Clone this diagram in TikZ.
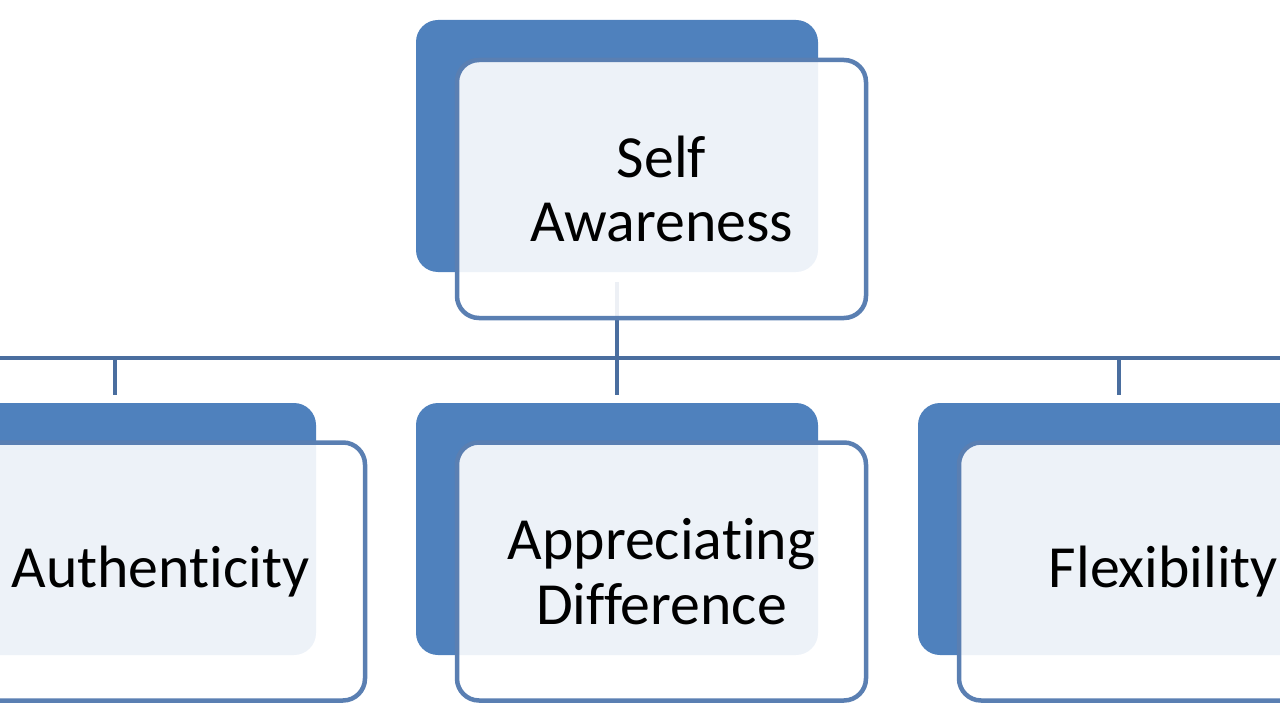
\documentclass[tikz,border=0pt]{standalone}
\usepackage{fontspec}
\setmainfont{Carlito}[Ligatures=NoCommon]
\usetikzlibrary{backgrounds}
\definecolor{accent}{HTML}{4F81BD}
\definecolor{outline}{HTML}{5A7FB2}
\definecolor{connc}{HTML}{4A6E9F}
\tikzset{
  backbox/.style={rectangle, rounded corners=22bp, fill=accent, draw=none,
    minimum width=402bp, minimum height=252bp, inner sep=0pt, outer sep=0pt},
  frontbox/.style={rectangle, rounded corners=22bp, fill=white, fill opacity=0.9,
    text opacity=1, draw=outline, line width=4.5bp,
    minimum width=409bp, minimum height=258bp, inner sep=0pt, outer sep=0pt,
    align=center, text=black, font=\fontsize{60}{65}\selectfont},
  conn/.style={draw=connc, line width=4.5bp}
}
\begin{document}
\begin{tikzpicture}[x=1bp,y=-1bp]
\useasboundingbox (0,0) rectangle (1280,720);
\clip (0,0) rectangle (1280,720);
% top
\node[backbox] (sa-b) at (617,146) {};
\node[frontbox] (sa) at (661.5,189) {Self\\Awareness};
% children
\node[backbox] (au-b) at (115,529) {};
\node[frontbox] (au) at (160.5,571.5) {Authenticity};
\node[backbox] (ad-b) at (617,529) {};
\node[frontbox] (ad) at (661.5,571.5) {Appreciating\\Difference};
\node[backbox] (fl-b) at (1119,529) {};
\node[frontbox] (fl) at (1163.5,571.5) {Flexibility};
% connectors
\coordinate (busL) at (-10,358);
\coordinate (busR) at (1290,358);
\begin{pgfonlayer}{background}
\draw[conn] (busL) -- (busR);
\draw[conn] ([yshift=-10bp]sa-b.south) -- (sa-b.south |- busL);
\draw[conn] (au-b.north |- busL) -- ([yshift=8bp]au-b.north);
\draw[conn] (ad-b.north |- busL) -- ([yshift=8bp]ad-b.north);
\draw[conn] (fl-b.north |- busL) -- ([yshift=8bp]fl-b.north);
\end{pgfonlayer}
\end{tikzpicture}
\end{document}
